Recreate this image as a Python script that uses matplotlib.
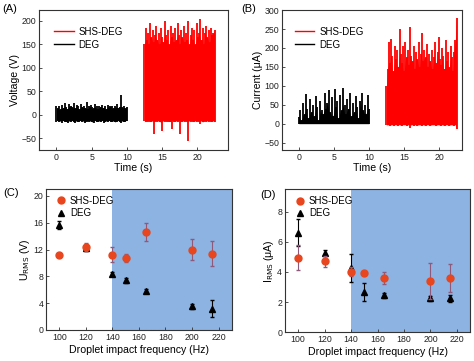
import numpy as np
import matplotlib
matplotlib.use("Agg")
import matplotlib.pyplot as plt
from matplotlib.lines import Line2D

plt.rcParams['font.family'] = ['Liberation Sans', 'DejaVu Sans']

# ---------- Panel A: voltage signals (peak / trough per cycle) ----------
a_deg_start, a_deg_end = 0.0, 10.0
a_deg_peaks = [20, 14, 18, 12, 22, 15, 25, 17, 13, 24, 19, 16, 26, 14, 21, 18, 12, 23, 17, 20,
               15, 27, 13, 19, 22, 16, 14, 24, 18, 12, 20, 17, 21, 15, 19, 13, 22, 18, 16, 20,
               14, 18, 23, 15, 17, 42, 16, 19, 14, 17]
a_deg_troughs = [-14, -12, -16, -13, -17, -12, -15, -14, -18, -13, -16, -12, -15, -17, -13, -14, -16, -12, -15, -13,
                 -17, -14, -12, -16, -13, -15, -17, -12, -14, -16, -13, -15, -12, -17, -14, -13, -16, -12, -15, -14,
                 -13, -16, -15, -12, -14, -17, -13, -15, -14, -12]
a_shs_start, a_shs_end = 12.5, 22.5
a_shs_peaks = [150, 185, 160, 175, 150, 195, 165, 180, 155, 170, 190, 160, 175, 150, 185, 165, 155, 200, 170, 160,
               180, 150, 190, 165, 175, 155, 185, 160, 195, 170, 150, 180, 165, 190, 155, 175, 160, 200, 150, 170,
               185, 160, 180, 150, 195, 165, 175, 205, 160, 185, 150, 175, 190, 165, 180, 155, 185, 170, 175, 180]
a_shs_troughs = [-12, -14, -13, -15, -12, -14, -16, -13, -40, -14, -12, -15, -13, -14, -16, -35, -13, -15, -12, -14,
                 -13, -16, -14, -30, -12, -15, -14, -13, -16, -12, -40, -14, -15, -13, -16, -12, -14, -55, -13, -15,
                 -12, -14, -16, -13, -15, -12, -14, -20, -13, -15, -16, -12, -14, -13, -15, -12, -14, -16, -13, -14]

# ---------- Panel B: current signals ----------
b_deg_start, b_deg_end = 0.0, 10.0
b_deg_peaks = [18, 35, 10, 55, 25, 78, 40, 15, 65, 30, 50, 20, 72, 45, 10, 60, 35, 25, 80, 40,
               55, 88, 30, 70, 20, 92, 45, 60, 15, 75, 35, 95, 50, 25, 65, 40, 80, 20, 55, 30,
               72, 45, 15, 60, 82, 35, 50, 25, 75, 40]
b_deg_troughs = [0] * 50
b_shs_start, b_shs_end = 12.5, 22.5
b_shs_peaks = [100, 145, 215, 160, 225, 180, 140, 205, 170, 195, 150, 250, 185, 160, 205, 140, 215, 175, 195, 155,
               255, 180, 165, 205, 145, 190, 170, 215, 150, 185, 240, 165, 195, 175, 210, 150, 185, 165, 195, 145,
               175, 215, 160, 190, 230, 170, 155, 200, 180, 145, 220, 165, 190, 150, 205, 175, 140, 190, 220, 280]
b_shs_troughs = [-3, -4, -3, -5, -4, -3, -5, -4, -3, -4, -5, -3, -4, -5, -3, -4, -3, -5, -4, -3,
                 -12, -4, -3, -5, -4, -3, -5, -4, -3, -4, -5, -3, -4, -5, -3, -4, -3, -5, -4, -3,
                 -4, -3, -5, -4, -3, -4, -5, -3, -4, -5, -3, -4, -3, -5, -4, -3, -4, -5, -3, -15]

# ---------- Panels C and D: RMS vs frequency ----------
freq = [100, 120, 140, 150, 165, 200, 215]
u_shs = [11.2, 12.4, 11.2, 10.8, 14.6, 12.0, 11.4]
u_shs_err = [0.0, 0.6, 1.1, 0.6, 1.4, 1.6, 1.9]
u_deg = [15.6, 12.2, 8.3, 7.4, 5.8, 3.5, 3.2]
u_deg_err = [0.6, 0.4, 0.3, 0.4, 0.3, 0.3, 1.2]
i_shs = [4.95, 4.7, 4.0, 3.9, 3.6, 3.4, 3.6]
i_shs_err = [0.85, 0.35, 0.3, 0.1, 0.4, 1.2, 0.95]
i_deg = [6.6, 5.25, 4.25, 2.65, 2.45, 2.25, 2.25]
i_deg_err = [0.9, 0.2, 0.95, 0.6, 0.15, 0.15, 0.25]
shade_start = 140

RED = '#ff0000'
DOT = '#e8461e'
ERRC = '#8e5a7c'
BLUE = '#8cb3e2'
FRAME = '#333333'
LABEL_FS = 7.6

fig = plt.figure(figsize=(4.74, 3.61), dpi=100)

def style(ax):
    for s in ax.spines.values():
        s.set_color(FRAME)
        s.set_linewidth(0.8)
    ax.tick_params(direction='in', length=2.5, width=0.6, labelsize=6.3, colors=FRAME,
                   labelcolor='#222222', pad=2)

def signal(ax, start, end, peaks, troughs, color):
    t = np.linspace(start, end, len(peaks))
    ax.vlines(t, troughs, peaks, color=color, linewidth=1.3)
    core_top = [min(p, q) for p, q in zip(peaks, peaks[1:] + peaks[-1:])]
    core_bot = [max(p, q) for p, q in zip(troughs, troughs[1:] + troughs[-1:])]
    ax.fill_between(t, core_bot, core_top, color=color, linewidth=0)

def line_legend(ax, anchor):
    h = [Line2D([], [], color=RED, lw=1), Line2D([], [], color='black', lw=1)]
    ax.legend(h, ['SHS-DEG', 'DEG'], loc='upper left', frameon=False, fontsize=7,
              handlelength=2.0, handletextpad=0.5, borderaxespad=0.0,
              labelspacing=0.3, bbox_to_anchor=anchor)

# Panel A
axA = fig.add_axes([0.082, 0.584, 0.399, 0.388])
signal(axA, a_shs_start, a_shs_end, a_shs_peaks, a_shs_troughs, RED)
signal(axA, a_deg_start, a_deg_end, a_deg_peaks, a_deg_troughs, 'black')
axA.set_xlim(-2.5, 24.4)
axA.set_ylim(-75, 223)
axA.set_xticks([0, 5, 10, 15, 20])
axA.set_yticks([-50, 0, 50, 100, 150, 200])
axA.set_xlabel('Time (s)', fontsize=LABEL_FS, labelpad=1)
axA.set_ylabel('Voltage (V)', fontsize=LABEL_FS, labelpad=1)
line_legend(axA, (0.06, 0.91))
style(axA)

# Panel B
axB = fig.add_axes([0.595, 0.584, 0.380, 0.388])
signal(axB, b_shs_start, b_shs_end, b_shs_peaks, b_shs_troughs, RED)
signal(axB, b_deg_start, b_deg_end, b_deg_peaks, b_deg_troughs, 'black')
axB.set_xlim(-2.4, 23.3)
axB.set_ylim(-70, 300)
axB.set_xticks([0, 5, 10, 15, 20])
axB.set_yticks([-50, 0, 50, 100, 150, 200, 250, 300])
axB.set_xlabel('Time (s)', fontsize=LABEL_FS, labelpad=1)
axB.set_ylabel('Current (μA)', fontsize=LABEL_FS, labelpad=1)
line_legend(axB, (0.05, 0.91))
style(axB)

def rms_panel(ax, shs, shs_err, deg, deg_err, ylim, yticks, ylabel):
    ax.axvspan(shade_start, 240, color=BLUE, linewidth=0, zorder=0)
    ax.errorbar(freq, deg, yerr=deg_err, fmt='^', color='black', ms=5,
                ecolor='black', elinewidth=0.8, capsize=1.5, zorder=3)
    ax.errorbar(freq, shs, yerr=shs_err, fmt='o', color=DOT, ms=5,
                ecolor=ERRC, elinewidth=0.8, capsize=1.5, zorder=4)
    ax.set_xlim(90, 230)
    ax.set_ylim(*ylim)
    ax.set_xticks([100, 120, 140, 160, 180, 200, 220])
    ax.set_yticks(yticks)
    ax.set_xlabel('Droplet impact frequency (Hz)', fontsize=LABEL_FS, labelpad=2)
    ax.set_ylabel(ylabel, fontsize=LABEL_FS, labelpad=1)
    h = [Line2D([], [], ls='none', marker='o', color=DOT, ms=5),
         Line2D([], [], ls='none', marker='^', color='black', ms=5)]
    ax.legend(h, ['SHS-DEG', 'DEG'], loc='upper left', frameon=False, fontsize=7,
              handlelength=1.0, handletextpad=0.4, borderaxespad=0.0, labelspacing=0.25,
              bbox_to_anchor=(0.035, 0.98))
    style(ax)

axC = fig.add_axes([0.097, 0.086, 0.392, 0.390])
rms_panel(axC, u_shs, u_shs_err, u_deg, u_deg_err, (0, 21),
          [0, 4, 8, 12, 16, 20], r'U$_{\mathrm{RMS}}$ (V)')

axD = fig.add_axes([0.601, 0.080, 0.391, 0.396])
rms_panel(axD, i_shs, i_shs_err, i_deg, i_deg_err, (0, 9.5),
          [0, 2, 4, 6, 8], r'I$_{\mathrm{RMS}}$ (μA)')

fig.text(0.004, 0.975, '(A)', fontsize=8, va='center')
fig.text(0.51, 0.975, '(B)', fontsize=8, va='center')
fig.text(0.006, 0.465, '(C)', fontsize=8, va='center')
fig.text(0.55, 0.46, '(D)', fontsize=8, va='center')

fig.savefig('out.png', dpi=100)
